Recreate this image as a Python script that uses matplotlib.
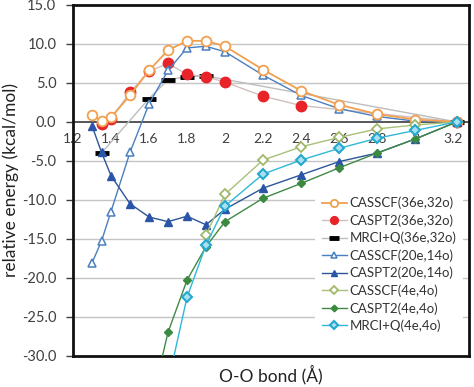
import matplotlib
matplotlib.use("Agg")
import matplotlib.pyplot as plt
import numpy as np

plt.rcParams['font.family'] = ['Lato', 'DejaVu Sans']

# ---- data ----
x_cas36 = [1.3, 1.35, 1.4, 1.5, 1.6, 1.7, 1.8, 1.9, 2.0, 2.2, 2.4, 2.6, 2.8, 3.0, 3.22]
y_cas36 = [0.9, 0.1, 0.6, 3.4, 6.6, 9.2, 10.4, 10.4, 9.7, 6.7, 4.0, 2.2, 1.0, 0.3, 0.0]

x_pt36 = [1.35, 1.4, 1.5, 1.6, 1.7, 1.8, 1.9, 2.0, 2.2, 2.4, 3.22]
y_pt36 = [-0.3, 0.4, 3.8, 6.5, 7.5, 6.1, 5.8, 5.1, 3.3, 2.1, 0.0]

x_mr36 = [1.35, 1.6, 1.7, 1.8, 1.9, 3.22]
y_mr36 = [-4.0, 3.0, 5.4, 5.8, 5.9, 0.0]

x_cas20 = [1.3, 1.35, 1.4, 1.5, 1.6, 1.7, 1.8, 1.9, 2.0, 2.2, 2.4, 2.6, 2.8, 3.0, 3.22]
y_cas20 = [-18.1, -15.3, -11.5, -3.9, 2.3, 6.6, 9.5, 9.7, 9.0, 6.0, 3.4, 1.7, 0.7, 0.1, 0.0]

x_pt20 = [1.3, 1.35, 1.4, 1.5, 1.6, 1.7, 1.8, 1.9, 2.0, 2.2, 2.4, 2.6, 2.8, 3.0, 3.22]
y_pt20 = [-0.5, -3.9, -6.9, -10.5, -12.2, -12.8, -12.1, -13.2, -11.2, -8.5, -6.8, -5.1, -4.0, -2.2, 0.0]

x_cas4 = [1.9, 2.0, 2.2, 2.4, 2.6, 2.8, 3.0, 3.22]
y_cas4 = [-14.5, -9.3, -4.9, -3.2, -2.0, -0.9, -0.4, 0.0]

x_pt4 = [1.6, 1.7, 1.8, 1.9, 2.0, 2.2, 2.4, 2.6, 2.8, 3.0, 3.22]
y_pt4 = [-37.4, -27.0, -20.3, -16.0, -12.8, -9.8, -7.9, -5.9, -4.0, -2.2, 0.0]

x_mr4 = [1.7, 1.8, 1.9, 2.0, 2.2, 2.4, 2.6, 2.8, 3.0, 3.22]
y_mr4 = [-33.5, -22.5, -15.8, -10.8, -6.7, -4.9, -3.4, -2.1, -1.1, 0.0]

labels = ["CASSCF(36e,32o)", "CASPT2(36e,32o)", "MRCI+Q(36e,32o)",
          "CASSCF(20e,14o)", "CASPT2(20e,14o)", "CASSCF(4e,4o)",
          "CASPT2(4e,4o)", "MRCI+Q(4e,4o)"]

x_ticks = [1.2, 1.4, 1.6, 1.8, 2.0, 2.2, 2.4, 2.6, 2.8, 3.0, 3.2]
x_ticklabels = ["1.2", "1.4", "1.6", "1.8", "2", "2.2", "2.4", "2.6", "2.8", "3", "3.2"]
y_ticks = [-30, -25, -20, -15, -10, -5, 0, 5, 10, 15]

# ---- figure ----
fig = plt.figure(figsize=(4.74, 3.87), dpi=100)
ax = fig.add_axes([73/474, 1-355.7/387, (469-73)/474, (355.7-5)/387])

ax.set_xlim(1.2, 3.284)
ax.set_ylim(-30, 15)

for yv in y_ticks:
    if yv not in (0, -30, 15):
        ax.axhline(yv, color='#c4c4c4', lw=1.0, zorder=0)
ax.axhline(0, color='#555555', lw=1.4, zorder=1)

lw = 1.0
h = []
h += ax.plot(x_mr36, y_mr36, color='#bdbdbd', lw=lw, marker='_', ms=10, mew=3.5,
             mec='black', zorder=3, label=labels[2])
h += ax.plot(x_pt36, y_pt36, color='#d0c0c0', lw=lw, marker='o', ms=7.5,
             mfc='#e8232a', mec='#e8232a', zorder=3, label=labels[1])
h += ax.plot(x_cas20, y_cas20, color='#4a7fc0', lw=lw, marker='^', ms=6,
             mfc='white', mec='#4a7fc0', mew=1.1, zorder=4, label=labels[3])
h += ax.plot(x_cas36, y_cas36, color='#f0a050', lw=1.3, marker='o', ms=7,
             mfc='white', mec='#f0a050', mew=1.3, zorder=4, label=labels[0])
h += ax.plot(x_pt20, y_pt20, color='#2d5597', lw=lw, marker='^', ms=6,
             mfc='#2a55a8', mec='#2a55a8', zorder=4, label=labels[4])
h += ax.plot(x_cas4, y_cas4, color='#a8c078', lw=lw, marker='D', ms=5,
             mfc='white', mec='#a0b868', mew=1.3, zorder=4, label=labels[5])
h += ax.plot(x_pt4, y_pt4, color='#3f8a45', lw=lw, marker='D', ms=4.5,
             mfc='#3a8a40', mec='#3a8a40', zorder=4, label=labels[6])
h += ax.plot(x_mr4, y_mr4, color='#30b8d8', lw=lw, marker='D', ms=5.5,
             mfc='#a8e0f0', mec='#25a8d0', mew=1.5, zorder=4, label=labels[7])

hmap = {hh.get_label(): hh for hh in h}
leg = ax.legend([hmap[l] for l in labels], labels, loc='upper left',
                bbox_to_anchor=((315-73)/396, (355.7-190)/350.7), frameon=True,
                fancybox=False, edgecolor='none', facecolor='white', framealpha=1,
                fontsize=9.5, handlelength=1.9, handletextpad=0.2,
                labelspacing=0.38, borderpad=0.5, borderaxespad=0,
                markerscale=0.75, labelcolor='#333333')
leg.set_zorder(6)

ax.set_xticks(x_ticks)
ax.set_xticklabels([])
ax.tick_params(axis='x', length=0)
for xv, lab in zip(x_ticks, x_ticklabels):
    ax.text(xv, -1.4, lab, ha='center', va='top', fontsize=10, color='#404040', zorder=2)

ax.set_yticks(y_ticks)
ax.set_yticklabels([f"{v:.1f}" for v in y_ticks], fontsize=10.5, color='#404040')
ax.tick_params(axis='y', length=5, width=1, color='#404040', pad=7, direction='out')

for s in ax.spines.values():
    s.set_linewidth(2.0)
    s.set_color('#111111')

ax.set_xlabel("O-O bond (Å)", fontsize=12.5, color='#222222', labelpad=3)
ax.set_ylabel("relative energy (kcal/mol)", fontsize=12.5, color='#222222', labelpad=2)

fig.savefig("out.png", dpi=100)
